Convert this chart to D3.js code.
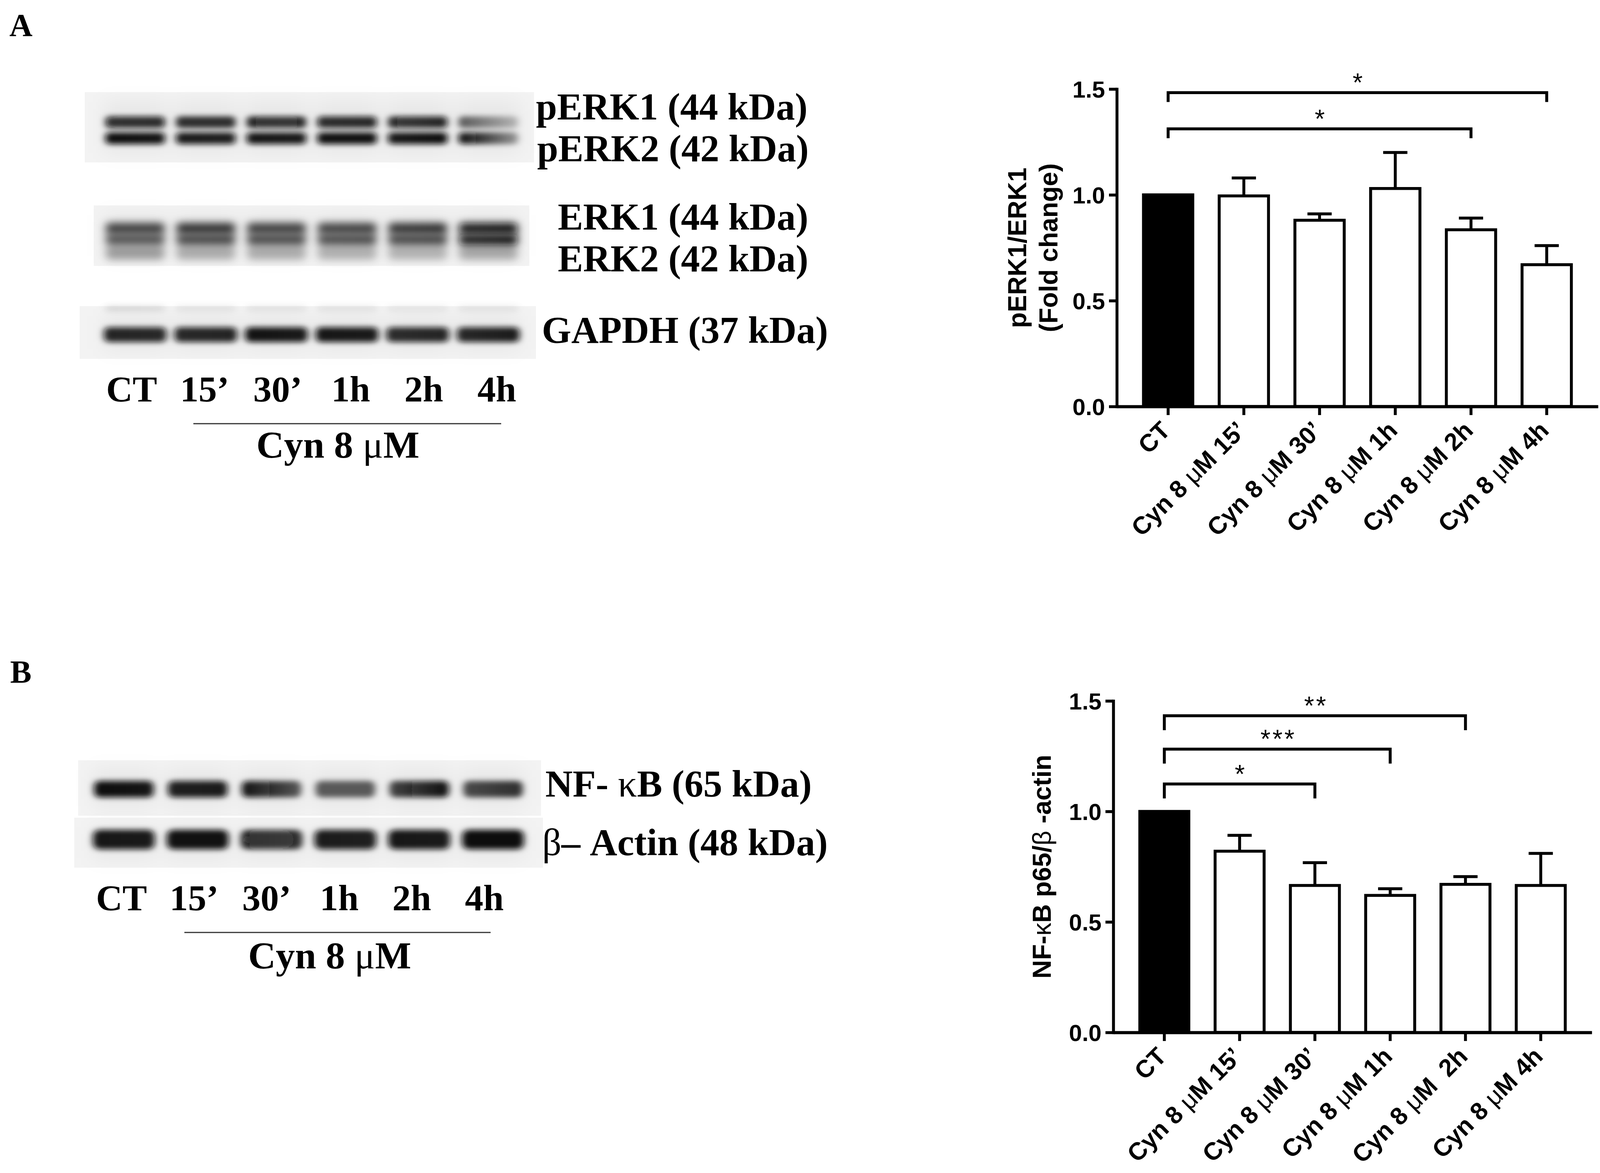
<!DOCTYPE html>
<html lang="en">
<head>
<meta charset="UTF-8">
<title>Cyn 8 uM - ERK and NF-kB</title>
<script src="https://cdn.jsdelivr.net/npm/d3@7/dist/d3.min.js"></script>
<style>
  html, body { margin: 0; padding: 0; background: #fff; }
  svg { display: block; }
  text { white-space: pre; }
</style>
</head>
<body>
<svg id="fig" width="4112" height="3004"></svg>
<script>
// ---------- data ----------
var laneLabels = ["CT", "15\u2019", "30\u2019", "1h", "2h", "4h"];
var barLabelsA = ["CT", "Cyn 8 \u03bcM 15\u2019", "Cyn 8 \u03bcM 30\u2019", "Cyn 8 \u03bcM 1h", "Cyn 8 \u03bcM 2h", "Cyn 8 \u03bcM 4h"];
var barLabelsB = ["CT", "Cyn 8 \u03bcM 15\u2019", "Cyn 8 \u03bcM 30\u2019", "Cyn 8 \u03bcM 1h", "Cyn 8 \u03bcM  2h", "Cyn 8 \u03bcM 4h"];
var yTicks = [0, 0.5, 1.0, 1.5];

var perkMean = [1.0, 0.995, 0.88, 1.03, 0.835, 0.67];
var perkErr  = [0, 0.085, 0.03, 0.17, 0.055, 0.09];
var perkSig  = [{from: 0, to: 5, label: "*", level: 1.483},
                {from: 0, to: 4, label: "*", level: 1.312}];

var nfkbMean = [1.0, 0.82, 0.665, 0.62, 0.67, 0.665];
var nfkbErr  = [0, 0.072, 0.103, 0.03, 0.035, 0.145];
var nfkbSig  = [{from: 0, to: 4, label: "**",  level: 1.433},
                {from: 0, to: 3, label: "***", level: 1.282},
                {from: 0, to: 2, label: "*",   level: 1.124}];

// blot band intensity per lane, [left half, right half]
var pERK1 = [[.85,.86],[.80,.80],[.84,.82],[.86,.88],[.80,.90],[.62,.22]];
var pERK2 = [[1.0,.96],[.94,.92],[.96,.94],[.98,.98],[.94,1.0],[1.0,.35]];
var ERK1  = [[.74,.74],[.80,.80],[.74,.74],[.72,.74],[.78,.82],[.95,1.0]];
var ERK2  = [[.64,.64],[.68,.70],[.68,.68],[.66,.68],[.68,.70],[.92,1.0]];
var ERKsmear = [[.34,.34],[.28,.28],[.28,.28],[.26,.26],[.25,.25],[.30,.30]];
var GAPDH = [[.90,.88],[.88,.90],[.98,.94],[.96,.94],[.86,.90],[.88,.94]];
var GAPDHfaint = [[.12,.10],[.07,.07],[.07,.07],[.07,.07],[.06,.06],[.07,.07]];
var NFKB  = [[1.0,.96],[.92,.94],[.98,.62],[.62,.62],[.70,1.0],[.68,.80]];
var ACTIN = [[.96,.94],[.98,.98],[.84,.80],[.94,.92],[.96,.94],[1.0,1.0]];

// ---------- setup ----------
var svg = d3.select("#fig");
var SANS = "'Liberation Sans', Arial, sans-serif";
var SERIF = "'Liberation Serif', 'Times New Roman', serif";
var defs = svg.append("defs");
var gradId = 0;

function addBlur(id, sd) {
  defs.append("filter").attr("id", id).attr("x", "-40%").attr("y", "-200%")
      .attr("width", "180%").attr("height", "500%")
    .append("feGaussianBlur").attr("stdDeviation", sd);
}
addBlur("blur", "9 7");
addBlur("blurWide", "11 10");
addBlur("haze", "25 25");

// text with greek letters set in normal weight (symbol font look)
function richText(sel, str) {
  str.split(/([\u03bc\u03ba\u03b2])/).filter(function(p) { return p.length; }).forEach(function(p) {
    var t = sel.append("tspan").text(p);
    if (/[\u03bc\u03ba\u03b2]/.test(p)) t.attr("font-weight", "normal");
  });
}

function gradFor(v) {
  var id = "bg" + (gradId++);
  var lg = defs.append("linearGradient").attr("id", id);
  lg.append("stop").attr("offset", "0%").attr("stop-color", "#080808").attr("stop-opacity", v[0]);
  lg.append("stop").attr("offset", "100%").attr("stop-color", "#080808").attr("stop-opacity", v[1]);
  return "url(#" + id + ")";
}

function drawBlot(box, lanes, rows) {
  var g = svg.append("g");
  g.append("rect").attr("x", box[0]).attr("y", box[1]).attr("width", box[2]).attr("height", box[3])
    .attr("fill", "#f3f3f3");
  // faint lane haze
  g.append("g").attr("filter", "url(#haze)").selectAll("rect").data(laneLabels).join("rect")
    .attr("x", function(d) { return lanes(d) - 80; }).attr("y", box[1] + 25)
    .attr("width", 160).attr("height", box[3] - 50)
    .attr("fill", "#000").attr("opacity", 0.05);
  rows.forEach(function(r) {
    g.append("g").attr("filter", r.wide ? "url(#blurWide)" : "url(#blur)")
      .selectAll("rect").data(r.vals).join("rect")
      .attr("x", function(d, i) { return lanes(laneLabels[i]) - r.w / 2; })
      .attr("y", r.y - r.h / 2)
      .attr("width", r.w).attr("height", r.h)
      .attr("rx", r.h / 3)
      .attr("fill", function(d) { return gradFor(d); });
  });
}

function blotLabel(txt, x, y, anchor) {
  var t = svg.append("text").attr("x", x).attr("y", y)
    .attr("font-family", SERIF).attr("font-weight", "bold").attr("font-size", 97)
    .attr("text-anchor", anchor || "start");
  richText(t, txt);
}

function laneRow(scale, y, x1, x2, lineY, cynY, cynX) {
  svg.append("g").selectAll("text").data(laneLabels).join("text")
    .attr("x", function(d) { return scale(d); }).attr("y", y)
    .attr("text-anchor", "middle")
    .attr("font-family", SERIF).attr("font-weight", "bold").attr("font-size", 94)
    .text(function(d) { return d; });
  svg.append("line").attr("x1", x1).attr("x2", x2).attr("y1", lineY).attr("y2", lineY)
    .attr("stroke", "#333").attr("stroke-width", 3);
  var t = svg.append("text").attr("x", cynX).attr("y", cynY).attr("text-anchor", "middle")
    .attr("font-family", SERIF).attr("font-weight", "bold").attr("font-size", 98);
  richText(t, "Cyn 8 \u03bcM");
}

function drawChart(cfg) {
  var sw = 7.5;
  var g = svg.append("g");
  var n = cfg.mean.length;
  var x = d3.scaleBand().domain(d3.range(n)).range([cfg.left, cfg.right])
    .paddingInner(0.31).paddingOuter(0.333);
  var y = d3.scaleLinear().domain([0, 1.5]).range([cfg.bottom, cfg.top]);
  var bw = x.bandwidth();
  var cx = function(i) { return x(i) + bw / 2; };

  // error bars (upper only)
  var eb = g.append("g").attr("stroke", "#000").attr("stroke-width", sw);
  cfg.mean.forEach(function(m, i) {
    if (!cfg.err[i]) return;
    eb.append("line").attr("x1", cx(i)).attr("x2", cx(i))
      .attr("y1", y(m)).attr("y2", y(m + cfg.err[i]));
    eb.append("line").attr("x1", cx(i) - 31).attr("x2", cx(i) + 31)
      .attr("y1", y(m + cfg.err[i])).attr("y2", y(m + cfg.err[i]));
  });

  // bars
  g.append("g").selectAll("rect").data(cfg.mean).join("rect")
    .attr("x", function(d, i) { return x(i) + sw / 2; })
    .attr("width", bw - sw)
    .attr("y", function(d) { return y(d); })
    .attr("height", function(d) { return y(0) - y(d); })
    .attr("fill", function(d, i) { return i === 0 ? "#000" : "#fff"; })
    .attr("stroke", "#000").attr("stroke-width", sw);

  // y axis
  var ya = g.append("g").attr("transform", "translate(" + cfg.left + ",0)")
    .call(d3.axisLeft(y).tickValues(yTicks).tickFormat(d3.format(".1f"))
      .tickSize(20).tickSizeOuter(0).tickPadding(10));
  ya.select(".domain").attr("stroke-width", sw).attr("stroke-linecap", "square");
  ya.selectAll(".tick line").attr("stroke-width", sw);
  ya.selectAll(".tick text").attr("font-family", SANS).attr("font-weight", "bold")
    .attr("font-size", 60).attr("dy", "0.36em");

  // x axis
  var xa = g.append("g").attr("transform", "translate(0," + y(0) + ")")
    .call(d3.axisBottom(x).tickSize(22).tickSizeOuter(0).tickFormat(""));
  xa.select(".domain").attr("stroke-width", sw + 0.5);
  xa.selectAll(".tick line").attr("stroke-width", sw);

  g.append("g").selectAll("text").data(cfg.labels).join("text")
    .attr("transform", function(d, i) {
      return "translate(" + (cx(i) + 9) + "," + (y(0) + 65) + ") rotate(-45)";
    })
    .attr("text-anchor", "end")
    .attr("font-family", SANS).attr("font-weight", "bold").attr("font-size", 63)
    .each(function(d) { richText(d3.select(this), d); });

  // significance brackets
  cfg.sig.forEach(function(s) {
    var yl = y(s.level), x1 = cx(s.from), x2 = cx(s.to);
    g.append("path")
      .attr("d", "M" + x1 + "," + (yl + cfg.leg) + "V" + yl + "H" + x2 + "V" + (yl + cfg.leg))
      .attr("fill", "none").attr("stroke", "#000").attr("stroke-width", sw);
    g.append("text").attr("x", (x1 + x2) / 2 + 3).attr("y", yl - 3)
      .attr("text-anchor", "middle").attr("font-family", SANS).attr("font-size", 66)
      .attr("letter-spacing", 5).text(s.label);
  });

  // y title
  cfg.title.forEach(function(t) {
    var tt = g.append("text")
      .attr("transform", "translate(" + t.x + "," + (cfg.top + cfg.bottom) / 2 + ") rotate(-90)")
      .attr("text-anchor", "middle")
      .attr("font-family", SANS).attr("font-weight", "bold").attr("font-size", 66);
    richText(tt, t.text);
  });
}

// ---------- panel A ----------
svg.append("text").attr("x", 24).attr("y", 92).attr("font-family", SERIF)
  .attr("font-weight", "bold").attr("font-size", 82).text("A");

var lanesA = d3.scalePoint().domain(laneLabels).range([346, 1250]);
drawBlot([217, 236, 1150, 180], lanesA, [
  {y: 313, h: 30, w: 152, vals: pERK1},
  {y: 354, h: 30, w: 152, vals: pERK2}
]);
drawBlot([240, 526, 1115, 155], lanesA, [
  {y: 648, h: 34, w: 150, vals: ERKsmear, wide: true},
  {y: 585, h: 28, w: 150, vals: ERK1, wide: true},
  {y: 614, h: 28, w: 150, vals: ERK2, wide: true}
]);
drawBlot([204, 784, 1168, 135], lanesA, [
  {y: 790, h: 14, w: 150, vals: GAPDHfaint},
  {y: 857, h: 38, w: 160, vals: GAPDH}
]);
blotLabel("pERK1 (44 kDa)", 1372, 306);
blotLabel("pERK2 (42 kDa)", 1375, 413);
blotLabel("ERK1 (44 kDa)", 1428, 588);
blotLabel("ERK2 (42 kDa)", 1428, 695);
blotLabel("GAPDH (37 kDa)", 1387, 878);
laneRow(d3.scalePoint().domain(laneLabels).range([337, 1272]), 1028, 495, 1283, 1085, 1172, 865);

drawChart({
  left: 2859, right: 4091, top: 228, bottom: 1041,
  mean: perkMean, err: perkErr, labels: barLabelsA, sig: perkSig, leg: 24,
  title: [{x: 2627, text: "pERK1/ERK1"}, {x: 2707, text: "(Fold change)"}]
});

// ---------- panel B ----------
svg.append("text").attr("x", 26).attr("y", 1748).attr("font-family", SERIF)
  .attr("font-weight", "bold").attr("font-size", 82).text("B");

var lanesB = d3.scalePoint().domain(laneLabels).range([317, 1262]);
drawBlot([200, 1947, 1185, 142], lanesB, [
  {y: 2021, h: 42, w: 152, vals: NFKB}
]);
drawBlot([190, 2094, 1200, 128], lanesB, [
  {y: 2150, h: 50, w: 158, vals: ACTIN}
]);
blotLabel("NF- \u03baB (65 kDa)", 1396, 2040);
blotLabel("\u03b2\u2013 Actin (48 kDa)", 1388, 2190);
laneRow(d3.scalePoint().domain(laneLabels).range([311, 1240]), 2331, 472, 1256, 2388, 2480, 844);

drawChart({
  left: 2850, right: 4075, top: 1795, bottom: 2644,
  mean: nfkbMean, err: nfkbErr, labels: barLabelsB, sig: nfkbSig, leg: 37,
  title: [{x: 2690, text: "NF-\u03baB p65/\u03b2 -actin"}]
});
</script>
</body>
</html>
